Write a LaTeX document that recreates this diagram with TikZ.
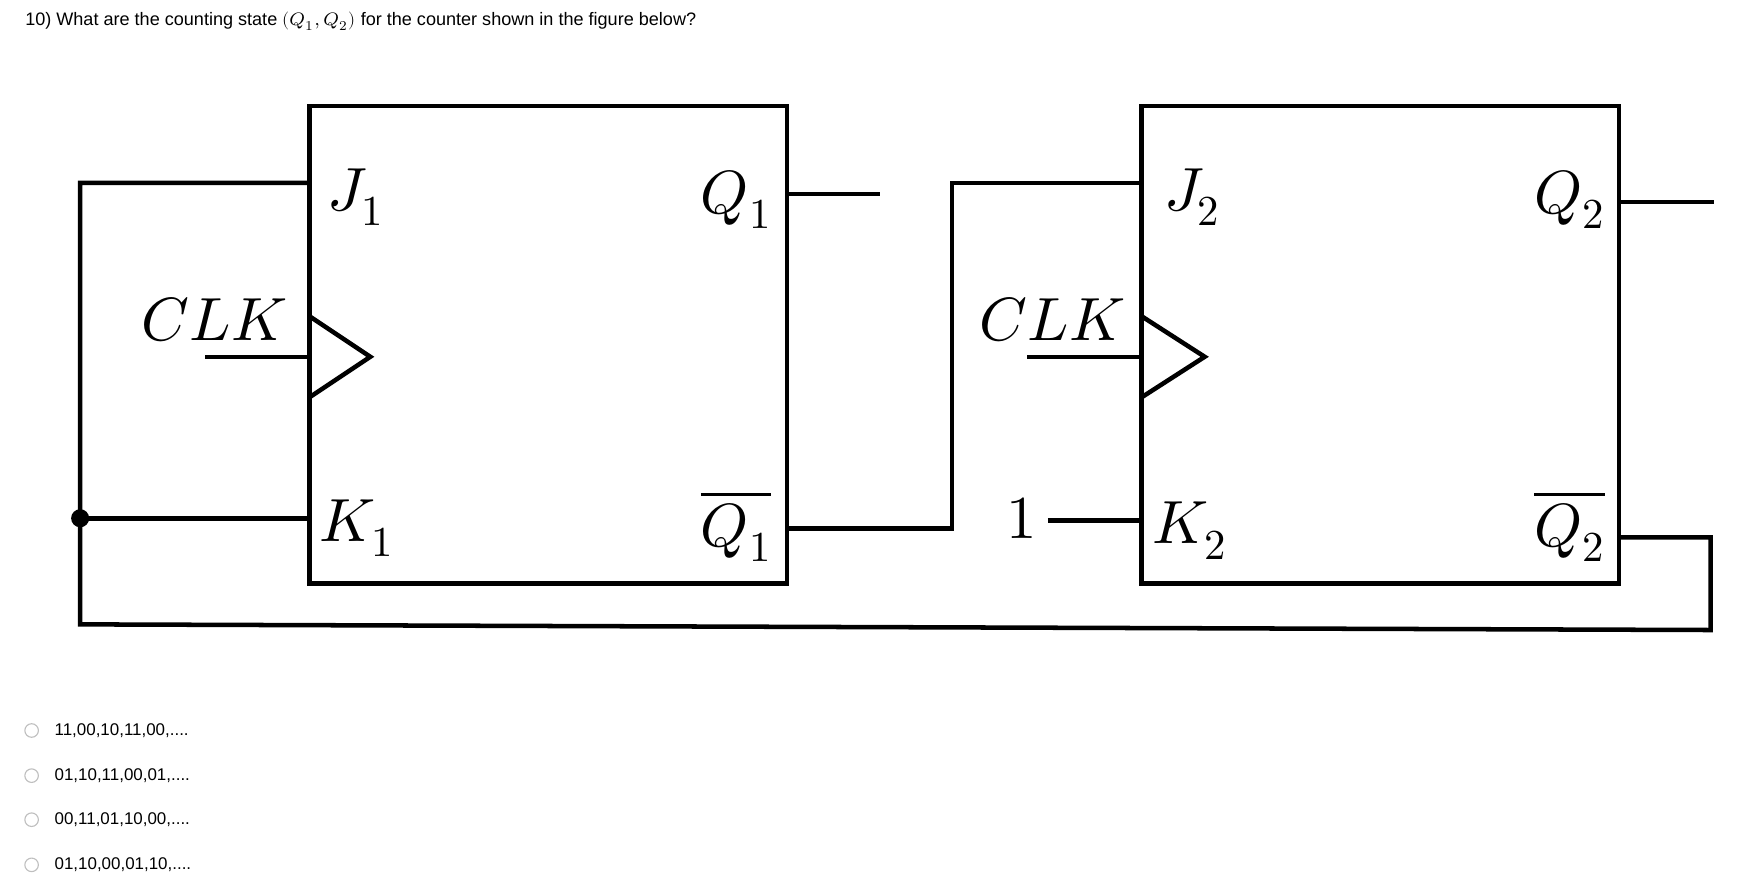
\documentclass[tikz,border=0pt]{standalone}
\usepackage{fontspec}
\setmainfont{Liberation Sans}
\usepackage{unicode-math}
\setmathfont{Latin Modern Math}
\begin{document}
\begin{tikzpicture}[x=0.5pt,y=-0.5pt,
  wire/.style={line width=2pt},
  lbl/.style={font=\fontsize{27}{30}\selectfont,inner sep=0pt},
  opt/.style={font=\fontsize{7.5}{9}\selectfont,anchor=west,inner sep=0pt},
  radio/.style={circle,draw=gray!50,line width=0.5pt,minimum size=6pt,inner sep=0pt}]
\useasboundingbox (0,0) rectangle (1550,783);
\node[anchor=west,inner sep=0pt,font=\fontsize{8}{10}\selectfont] (title) at (22,19) {10) What are the counting state $(Q_1,Q_2)$ for the counter shown in the figure below?};
% boxes
\node[draw,line width=2pt,minimum width=211.5pt,minimum height=211.5pt,inner sep=0pt] (ff1) at (485.5,305.5) {};
\node[draw,line width=2pt,minimum width=211.5pt,minimum height=211.5pt,inner sep=0pt] (ff2) at (1222.5,305.5) {};
% labels
\node[lbl] (j1) at (315,175) {$J_1$};
\node[lbl] (k1) at (316,468) {$K_1$};
\node[lbl] (q1) at (652,177) {$Q_1$};
\node[lbl] (q1b) at (652,466) {$\overline{Q_1}$};
\node[lbl] (clk1) at (190,283) {$CLK$};
\node[lbl] (j2) at (1056,175) {$J_2$};
\node[lbl] (k2) at (1054,470) {$K_2$};
\node[lbl] (q2) at (1390,177) {$Q_2$};
\node[lbl] (q2b) at (1390,466) {$\overline{Q_2}$};
\node[lbl] (clk2) at (932,283) {$CLK$};
\node[lbl] (one) at (905,459) {$1$};
% clock triangles
\draw[wire] (274,280) -- (328,316) -- (274,352);
\draw[wire] (1011,280) -- (1067,316) -- (1011,352);
\coordinate (c1) at (182,316); \coordinate (c1e) at (274,316);
\coordinate (c2) at (910,316); \coordinate (c2e) at (1011,316);
\draw[wire] (c1) -- (c1e);
\draw[wire] (c2) -- (c2e);
% feedback
\coordinate (jin1) at (274,162);
\coordinate (kin1) at (274,459);
\coordinate (tl) at (71,162);
\coordinate (dot) at (71,459);
\coordinate (bl) at (71,553);
\coordinate (br) at (1515,558);
\coordinate (qr) at (1515,476);
\coordinate (q2bo) at (1434,476);
\draw[wire] (jin1) -- (tl) -- (bl) -- (br) -- (qr) -- (q2bo);
\draw[wire] (dot) -- (kin1);
\fill (dot) circle (4pt);
% Q outputs
\coordinate (q1o) at (697,172); \coordinate (q1oe) at (779,172);
\draw[wire] (q1o) -- (q1oe);
\coordinate (q2o) at (1434,179); \coordinate (q2oe) at (1518,179);
\draw[wire] (q2o) -- (q2oe);
% Q1bar to J2
\coordinate (q1bo) at (697,468);
\coordinate (m1) at (843,468);
\coordinate (m2) at (843,162);
\coordinate (jin2) at (1011,162);
\draw[wire] (q1bo) -- (m1) -- (m2) -- (jin2);
% 1 to K2
\coordinate (o1) at (928,461); \coordinate (kin2) at (1011,461);
\draw[wire] (o1) -- (kin2);
% options
\foreach \y/\t [count=\i] in {647/{11,00,10,11,00,....},687/{01,10,11,00,01,....},726/{00,11,01,10,00,....},766/{01,10,00,01,10,....}}{
  \node[radio] (r\i) at (28,\y) {};
  \node[opt] (o\i) at (48,\y) {\t};
}
\end{tikzpicture}
\end{document}
